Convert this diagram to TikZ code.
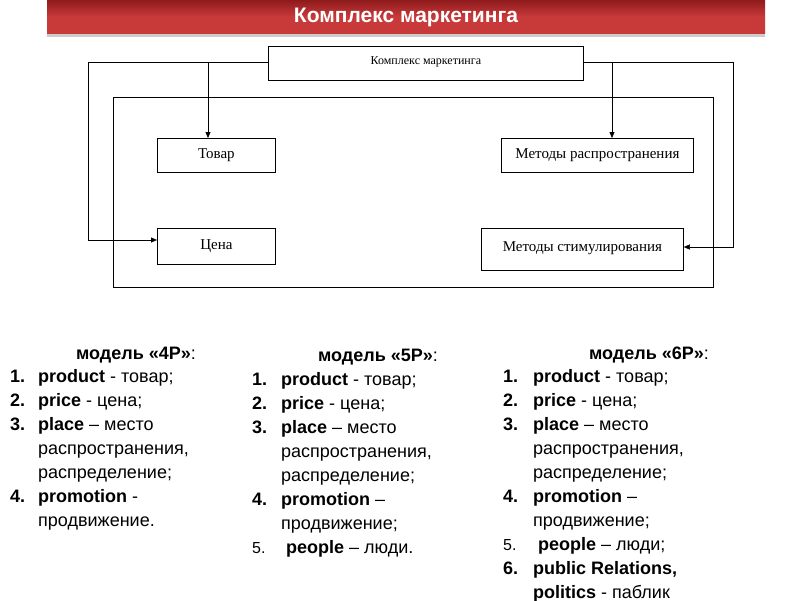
\documentclass[tikz,border=0pt]{standalone}
\usepackage{fontspec}
\setmainfont{Liberation Serif}
\newfontfamily\listfont{Liberation Sans}
\usetikzlibrary{arrows.meta}
\definecolor{bardark}{HTML}{8E1A1C}
\definecolor{barlight}{HTML}{C8393A}
\tikzset{
  box/.style={draw,thick,minimum height=34pt,inner sep=0pt,font=\fontsize{15}{17}\selectfont},
  link/.style={draw,-{Triangle[length=6pt,width=5pt]}},
  head/.style={font=\listfont\fontsize{18}{24}\selectfont\bfseries,anchor=base},
  num/.style={font=\listfont\fontsize{18}{24}\selectfont\bfseries,anchor=base west,inner sep=0pt},
  item/.style={font=\listfont\fontsize{18}{24}\selectfont,anchor=north west,align=left,inner sep=0pt}
}
\begin{document}
\begin{tikzpicture}[x=1pt,y=-1pt]
  \useasboundingbox (0,0) rectangle (800,600);
  % title bar
  \fill[gray!40] (47,33) rectangle (765,37);
  \shade[top color=bardark,bottom color=barlight,middle color=barlight] (47,0) rectangle (765,33);
  \node[text=white,font=\listfont\fontsize{21}{24}\selectfont\bfseries] (title) at (406,17) {Комплекс маркетинга};
  % scheme
  \node[box,minimum width=315pt,minimum height=34pt,font=\fontsize{12}{14}\selectfont,anchor=north west] (mix) at (268,46) {\raisebox{6pt}{Комплекс маркетинга}};
  \draw[thick] (113,97) rectangle (713,287);
  \node[box,minimum width=118pt,anchor=north west] (tovar) at (157,138) {Товар};
  \node[box,minimum width=192pt,anchor=north west] (rasp) at (501,138) {Методы распространения};
  \node[box,minimum width=118pt,minimum height=36pt,anchor=north west] (cena) at (157,228) {Цена};
  \node[box,minimum width=202pt,minimum height=42pt,anchor=north west] (stim) at (481,228) {\raisebox{6pt}{Методы стимулирования}};
  \draw[link] (208,62) -- (tovar.north -| 208,0);
  \draw[link] (612,62) -- (rasp.north -| 612,0);
  \draw[link] (mix.west |- 0,62) -| (88,240) -- (cena.west |- 0,240);
  \draw[link] (mix.east |- 0,62) -| (733,247) -- (stim.east |- 0,247);
  % model 4P
  \node[head] (h4) at (136,359) {модель «4P»\textmd{:}};
  \foreach \n/\y in {1/382,2/406,3/430,4/502} \node[num] (n4-\n) at (10,\y) {\n.};
  \node[item] (t4) at (38,369) {\textbf{product} - товар;\\\textbf{price} - цена;\\\textbf{place} – место\\распространения,\\распределение;\\\textbf{promotion} -\\продвижение.};
  % model 5P
  \node[head] (h5) at (378,361) {модель «5P»\textmd{:}};
  \foreach \n/\y in {1/385,2/409,3/433,4/505} \node[num] (n5-\n) at (252,\y) {\n.};
  \node[num,font=\listfont\fontsize{16}{24}\selectfont] (n5-5) at (252,553) {5.};
  \node[item] (t5) at (281,372) {\textbf{product} - товар;\\\textbf{price} - цена;\\\textbf{place} – место\\распространения,\\распределение;\\\textbf{promotion} –\\продвижение;\\ \textbf{~people} – люди.};
  % model 6P
  \node[head] (h6) at (649,359) {модель «6P»\textmd{:}};
  \foreach \n/\y in {1/382,2/406,3/430,4/502,6/574} \node[num] (n6-\n) at (503,\y) {\n.};
  \node[num,font=\listfont\fontsize{16}{24}\selectfont] (n6-5) at (503,550) {5.};
  \node[item] (t6) at (533,369) {\textbf{product} - товар;\\\textbf{price} - цена;\\\textbf{place} – место\\распространения,\\распределение;\\\textbf{promotion} –\\продвижение;\\ \textbf{~people} – люди;\\\textbf{public Relations,}\\\textbf{politics} - паблик};
\end{tikzpicture}
\end{document}
